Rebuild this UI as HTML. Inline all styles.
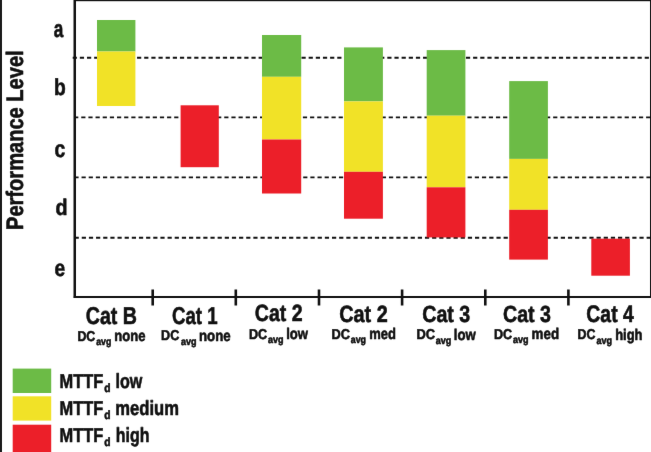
<!DOCTYPE html><html><head><meta charset="utf-8"><title>Performance Level chart</title><style>html,body{margin:0;padding:0;background:#fff;width:651px;height:452px;overflow:hidden}svg{display:block}</style></head><body><svg width="651" height="452" viewBox="0 0 651 452"><defs><filter id="soft" filterUnits="userSpaceOnUse" x="0" y="0" width="651" height="452" color-interpolation-filters="sRGB"><feConvolveMatrix order="3" edgeMode="duplicate" preserveAlpha="true" kernelMatrix="0.00276 0.04704 0.00276 0.04704 0.80077 0.04704 0.00276 0.04704 0.00276"/></filter></defs><g filter="url(#soft)"><rect x="-10" y="-10" width="671" height="472" fill="#fff"/><rect x="0" y="0" width="2" height="452" fill="#1a1a1a"/><line x1="72.70" y1="57.8" x2="650" y2="57.8" stroke="#111" stroke-width="2" stroke-dasharray="4.2 2.95"/><line x1="74.10" y1="117.4" x2="650" y2="117.4" stroke="#111" stroke-width="1.6" stroke-dasharray="4.2 2.95"/><line x1="74.40" y1="177.4" x2="650" y2="177.4" stroke="#111" stroke-width="1.6" stroke-dasharray="4.2 2.95"/><line x1="74.60" y1="237.8" x2="650" y2="237.8" stroke="#111" stroke-width="2" stroke-dasharray="4.2 2.95"/><rect x="97" y="20" width="38.40" height="31.50" fill="#6cbb46"/><rect x="97" y="51.5" width="38.40" height="54.50" fill="#f1e227"/><rect x="180.6" y="105.3" width="38.20" height="61.90" fill="#ec1f29"/><rect x="262" y="35" width="39.20" height="41.80" fill="#6cbb46"/><rect x="262" y="76.8" width="39.20" height="62.70" fill="#f1e227"/><rect x="262" y="139.5" width="39.20" height="54.00" fill="#ec1f29"/><rect x="344" y="47.4" width="38.90" height="54.00" fill="#6cbb46"/><rect x="344" y="101.4" width="38.90" height="70.40" fill="#f1e227"/><rect x="344" y="171.8" width="38.90" height="46.90" fill="#ec1f29"/><rect x="426.7" y="50.1" width="38.70" height="65.60" fill="#6cbb46"/><rect x="426.7" y="115.7" width="38.70" height="71.60" fill="#f1e227"/><rect x="426.7" y="187.3" width="38.70" height="50.10" fill="#ec1f29"/><rect x="509.2" y="81.1" width="38.70" height="77.80" fill="#6cbb46"/><rect x="509.2" y="158.9" width="38.70" height="50.90" fill="#f1e227"/><rect x="509.2" y="209.8" width="38.70" height="49.80" fill="#ec1f29"/><rect x="591.3" y="238.7" width="38.60" height="37.00" fill="#ec1f29"/><rect x="74" y="0" width="577" height="1.2" fill="#111"/><rect x="73.5" y="0" width="2.5" height="298" fill="#111"/><rect x="650" y="0" width="1" height="298" fill="#111"/><rect x="73.8" y="296" width="577.2" height="2" fill="#111"/><rect x="151.40" y="289.5" width="2.6" height="16" fill="#111"/><rect x="234.50" y="289.5" width="2.6" height="16" fill="#111"/><rect x="317.70" y="289.5" width="2.6" height="16" fill="#111"/><rect x="400.80" y="289.5" width="2.6" height="16" fill="#111"/><rect x="484.00" y="289.5" width="2.6" height="16" fill="#111"/><rect x="567.10" y="289.5" width="2.6" height="16" fill="#111"/><rect x="12.7" y="368.6" width="38.5" height="24.4" fill="#6cbb46"/><rect x="12.7" y="396.3" width="38.5" height="24.3" fill="#f1e227"/><rect x="12.7" y="424.7" width="38.5" height="30" fill="#ec1f29"/><g font-family="Liberation Sans, Arial, sans-serif" font-weight="bold" text-rendering="geometricPrecision" fill="#111" stroke="#111" stroke-linejoin="round"><text transform="translate(53.70,36.76) scale(0.17217,0.23927)" font-size="100" stroke-width="2.508">a</text><text transform="translate(54.00,94.67) scale(0.19211,0.23129)" font-size="100" stroke-width="2.594">b</text><text transform="translate(54.47,157.06) scale(0.19307,0.23744)" font-size="100" stroke-width="2.527">c</text><text transform="translate(55.57,214.97) scale(0.19753,0.22585)" font-size="100" stroke-width="2.657">d</text><text transform="translate(54.48,276.27) scale(0.19277,0.23196)" font-size="100" stroke-width="2.587">e</text><text transform="translate(22.50,230.00) rotate(-90) scale(0.20079,0.23800)" font-size="100" stroke-width="2.521">Performance Level</text><text transform="translate(85.76,323.86) scale(0.19630,0.24311)" font-size="100" stroke-width="2.468">Cat B</text><text transform="translate(171.99,323.86) scale(0.18608,0.24311)" font-size="100" stroke-width="2.468">Cat 1</text><text transform="translate(254.77,321.27) scale(0.19577,0.23463)" font-size="100" stroke-width="2.557">Cat 2</text><text transform="translate(339.26,321.57) scale(0.19786,0.23463)" font-size="100" stroke-width="2.557">Cat 2</text><text transform="translate(422.27,321.51) scale(0.19619,0.23380)" font-size="100" stroke-width="2.566">Cat 3</text><text transform="translate(502.97,321.51) scale(0.19619,0.23380)" font-size="100" stroke-width="2.566">Cat 3</text><text transform="translate(586.37,321.86) scale(0.19380,0.23887)" font-size="100" stroke-width="2.512">Cat 4</text><text transform="translate(77.43,340.56) scale(0.12356,0.14276)" font-size="100" stroke-width="4.203">DC</text><text transform="translate(96.19,344.72) scale(0.08719,0.10267)" font-size="100" stroke-width="5.844">avg</text><text transform="translate(114.30,340.70) scale(0.13097,0.15500)" font-size="100" stroke-width="3.871">none</text><text transform="translate(161.12,340.36) scale(0.12572,0.14276)" font-size="100" stroke-width="4.203">DC</text><text transform="translate(180.89,344.52) scale(0.09016,0.10267)" font-size="100" stroke-width="5.844">avg</text><text transform="translate(198.99,340.50) scale(0.13269,0.15500)" font-size="100" stroke-width="3.871">none</text><text transform="translate(249.02,339.16) scale(0.12572,0.14276)" font-size="100" stroke-width="4.203">DC</text><text transform="translate(267.99,343.32) scale(0.09016,0.10267)" font-size="100" stroke-width="5.844">avg</text><text transform="translate(286.24,339.30) scale(0.13079,0.15500)" font-size="100" stroke-width="3.871">low</text><text transform="translate(331.51,339.16) scale(0.12787,0.14276)" font-size="100" stroke-width="4.203">DC</text><text transform="translate(350.79,343.32) scale(0.08778,0.10267)" font-size="100" stroke-width="5.844">avg</text><text transform="translate(369.31,339.30) scale(0.12986,0.15500)" font-size="100" stroke-width="3.871">med</text><text transform="translate(416.50,339.46) scale(0.12859,0.14276)" font-size="100" stroke-width="4.203">DC</text><text transform="translate(435.79,343.62) scale(0.08956,0.10267)" font-size="100" stroke-width="5.844">avg</text><text transform="translate(453.73,339.60) scale(0.13201,0.15500)" font-size="100" stroke-width="3.871">low</text><text transform="translate(494.02,339.16) scale(0.12572,0.14276)" font-size="100" stroke-width="4.203">DC</text><text transform="translate(512.89,343.32) scale(0.09016,0.10267)" font-size="100" stroke-width="5.844">avg</text><text transform="translate(531.59,339.30) scale(0.13393,0.15500)" font-size="100" stroke-width="3.871">med</text><text transform="translate(577.53,339.46) scale(0.12356,0.14276)" font-size="100" stroke-width="4.203">DC</text><text transform="translate(596.49,343.62) scale(0.09016,0.10267)" font-size="100" stroke-width="5.844">avg</text><text transform="translate(615.14,339.60) scale(0.12979,0.15500)" font-size="100" stroke-width="3.871">high</text><text transform="translate(59.44,387.50) scale(0.16431,0.19927)" font-size="100" stroke-width="3.011">MTTF</text><text transform="translate(104.25,392.28) scale(0.10268,0.11973)" font-size="100" stroke-width="5.011">d</text><text transform="translate(115.51,387.50) scale(0.16106,0.20500)" font-size="100" stroke-width="2.927">low</text><text transform="translate(59.44,414.50) scale(0.16431,0.19927)" font-size="100" stroke-width="3.011">MTTF</text><text transform="translate(104.25,419.28) scale(0.10268,0.11973)" font-size="100" stroke-width="5.011">d</text><text transform="translate(115.26,414.50) scale(0.16619,0.20500)" font-size="100" stroke-width="2.927">medium</text><text transform="translate(59.44,441.60) scale(0.16431,0.19927)" font-size="100" stroke-width="3.011">MTTF</text><text transform="translate(104.25,446.38) scale(0.10268,0.11973)" font-size="100" stroke-width="5.011">d</text><text transform="translate(115.82,441.60) scale(0.15926,0.20500)" font-size="100" stroke-width="2.927">high</text></g></g></svg></body></html>
